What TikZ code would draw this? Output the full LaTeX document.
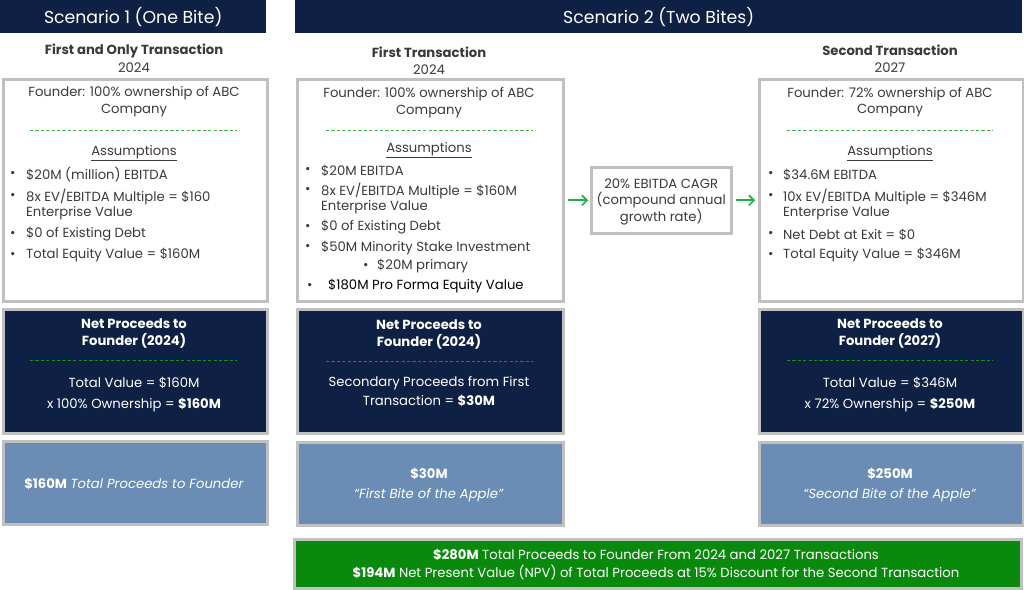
\documentclass[tikz,border=0pt]{standalone}
\usepackage{fontspec}
\setmainfont{Poppins}
\usetikzlibrary{arrows.meta}
\definecolor{navy}{HTML}{0E2044}
\definecolor{steel}{HTML}{6A8CB5}
\definecolor{dgreen}{HTML}{0A8A0C}
\definecolor{brd}{HTML}{C0C0C0}
\definecolor{txt}{HTML}{3A3A3A}
\definecolor{dashg}{HTML}{3DBB4A}
\definecolor{arrg}{HTML}{22B04A}
\tikzset{
  box/.style={draw=brd, line width=2.5pt, inner sep=0pt, anchor=north west},
  hdr/.style={fill=navy, inner sep=0pt, anchor=north west},
  hdrtxt/.style={text=white, font=\fontsize{17.3}{20}\selectfont},
  bt/.style={text=txt, font=\fontsize{13.2}{16}\selectfont, inner sep=0pt, yshift=-1.5pt},
  btb/.style={bt, font=\fontsize{13.2}{16}\selectfont\bfseries},
  wt/.style={text=white, font=\fontsize{13.2}{16}\selectfont, inner sep=0pt, yshift=-1.5pt},
  wtb/.style={wt, font=\fontsize{13.2}{16}\selectfont\bfseries},
  sep/.style={draw=dashg, line width=0.8pt, dash pattern=on 3.2pt off 2.2pt},
  arr/.style={draw=arrg, line width=1.6pt, -{Straight Barb[length=5pt,width=10pt]}},
}
\newcommand\bitem[5]{%
  \node[bt, anchor=west] (#1) at (#3,#4) {#5};
  \node[bt, anchor=west] (#1b) at (#2,#4) {•};}
\begin{document}
\begin{tikzpicture}[x=1pt,y=-1pt]
\useasboundingbox (0,0) rectangle (1024,589);
% headers
\node[hdr, minimum width=266, minimum height=33] (h1) at (0,0) {};
\node[hdrtxt] (h1t) at (h1.center) {Scenario 1 (One Bite)};
\node[hdr, minimum width=727, minimum height=33] (h2) at (295,0) {};
\node[hdrtxt] (h2t) at (h2.center) {Scenario 2 (Two Bites)};

% ===== column 1 =====
\node[btb] (c1t) at (134,49) {First and Only Transaction};
\node[bt] (c1y) at (134,66) {2024};
\node[box, minimum width=264, minimum height=222] (b1) at (2,78) {};
\node[bt] (b1a) at (134,92) {Founder: 100\% ownership of ABC};
\node[bt] (b1b) at (134,109) {Company};
\coordinate (d1l) at (30,130); \coordinate (d1r) at (237,130);
\draw[sep] (d1l) -- (d1r);
\node[bt] (b1c) at (134,152) {\underline{Assumptions}};
\bitem{b1i1}{10}{26}{173}{\$20M (million) EBITDA}
\bitem{b1i2}{10}{26}{195}{8x EV/EBITDA Multiple = \$160}
\node[bt, anchor=west] (b1i2c) at (26,212) {Enterprise Value};
\bitem{b1i3}{10}{26}{233}{\$0 of Existing Debt}
\bitem{b1i4}{10}{26}{254}{Total Equity Value = \$160M}

% ===== column 2 =====
\node[btb] (c2t) at (429,51) {First Transaction};
\node[bt] (c2y) at (429,68) {2024};
\node[box, minimum width=266, minimum height=222] (b2) at (296,78) {};
\node[bt] (b2a) at (429,93) {Founder: 100\% ownership of ABC};
\node[bt] (b2b) at (429,110) {Company};
\coordinate (d2l) at (326,130); \coordinate (d2r) at (533,130);
\draw[sep] (d2l) -- (d2r);
\node[bt] (b2c) at (429,149) {\underline{Assumptions}};
\bitem{b2i1}{305}{321}{169}{\$20M EBITDA}
\bitem{b2i2}{305}{321}{189}{8x EV/EBITDA Multiple = \$160M}
\node[bt, anchor=west] (b2i2c) at (321,206) {Enterprise Value};
\bitem{b2i3}{305}{321}{226}{\$0 of Existing Debt}
\bitem{b2i4}{305}{321}{246}{\$50M Minority Stake Investment}
\bitem{b2i5}{363}{377}{265}{\$20M primary}
\bitem{b2i6}{307}{328}{285}{\color{black}\$180M Pro Forma Equity Value}

% CAGR box
\node[box, minimum width=140, minimum height=66] (cg) at (590,166) {};
\node[bt, align=center, font=\fontsize{13.2}{16.5}\selectfont] (cgt) at (cg.center) {20\% EBITDA CAGR\\(compound annual\\growth rate)};

% ===== column 3 =====
\node[btb] (c3t) at (890,49) {Second Transaction};
\node[bt] (c3y) at (890,66) {2027};
\node[box, minimum width=264, minimum height=222] (b3) at (758,78) {};
\node[bt] (b3a) at (890,93) {Founder: 72\% ownership of ABC};
\node[bt] (b3b) at (890,109) {Company};
\coordinate (d3l) at (787,130); \coordinate (d3r) at (993,130);
\draw[sep] (d3l) -- (d3r);
\node[bt] (b3c) at (890,152) {\underline{Assumptions}};
\bitem{b3i1}{768}{783}{173}{\$34.6M EBITDA}
\bitem{b3i2}{768}{783}{195}{10x EV/EBITDA Multiple = \$346M}
\node[bt, anchor=west] (b3i2c) at (783,212) {Enterprise Value};
\bitem{b3i3}{768}{783}{233}{Net Debt at Exit = \$0}
\bitem{b3i4}{768}{783}{254}{Total Equity Value = \$346M}

% arrows
\draw[arr, shorten <=3pt, shorten >=2pt] (b2.east |- cg.west) -- (cg.west);
\draw[arr, shorten <=3pt, shorten >=3pt] (cg.east) -- (b3.west |- cg.east);

% ===== net proceeds (navy) =====
\node[box, fill=navy, minimum width=264, minimum height=124] (n1) at (2,308) {};
\node[wtb] (n1a) at (134,322) {Net Proceeds to};
\node[wtb] (n1b) at (134,339) {Founder (2024)};
\coordinate (e1l) at (30,360); \coordinate (e1r) at (237,360);
\draw[sep, draw=dgreen!80!dashg] (e1l) -- (e1r);
\node[wt] (n1c) at (134,381) {Total Value = \$160M};
\node[wt] (n1d) at (134,403) {x 100\% Ownership = \textbf{\$160M}};

\node[box, fill=navy, minimum width=266, minimum height=124] (n2) at (296,308) {};
\node[wtb] (n2a) at (429,323) {Net Proceeds to};
\node[wtb] (n2b) at (429,340) {Founder (2024)};
\coordinate (e2l) at (326,361); \coordinate (e2r) at (533,361);
\draw[sep, draw=dgreen!80!dashg] (e2l) -- (e2r);
\node[wt] (n2c) at (429,382) {Secondary Proceeds from First};
\node[wt] (n2d) at (429,399) {Transaction = \textbf{\$30M}};

\node[box, fill=navy, minimum width=264, minimum height=124] (n3) at (758,308) {};
\node[wtb] (n3a) at (890,322) {Net Proceeds to};
\node[wtb] (n3b) at (890,339) {Founder (2027)};
\coordinate (e3l) at (787,360); \coordinate (e3r) at (993,360);
\draw[sep, draw=dgreen!80!dashg] (e3l) -- (e3r);
\node[wt] (n3c) at (890,381) {Total Value = \$346M};
\node[wt] (n3d) at (890,403) {x 72\% Ownership = \textbf{\$250M}};

% ===== totals (steel) =====
\node[box, fill=steel, minimum width=264, minimum height=83] (s1) at (2,440) {};
\node[wt] (s1a) at (134,482) {\textbf{\$160M} \textit{Total Proceeds to Founder}};
\node[box, fill=steel, minimum width=266, minimum height=83] (s2) at (296,441) {};
\node[wtb] (s2a) at (429,472) {\$30M};
\node[wt] (s2b) at (429,494) {\textit{“First Bite of the Apple”}};
\node[box, fill=steel, minimum width=264, minimum height=83] (s3) at (758,441) {};
\node[wtb] (s3a) at (890,472) {\$250M};
\node[wt] (s3b) at (890,494) {\textit{“Second Bite of the Apple”}};

% ===== green summary =====
\node[box, fill=dgreen, minimum width=727, minimum height=49] (g) at (293,538) {};
\node[wt] (ga) at (656,553) {\textbf{\$280M} Total Proceeds to Founder From 2024 and 2027 Transactions};
\node[wt] (gb) at (656,571) {\textbf{\$194M} Net Present Value (NPV) of Total Proceeds at 15\% Discount for the Second Transaction};
\end{tikzpicture}
\end{document}
